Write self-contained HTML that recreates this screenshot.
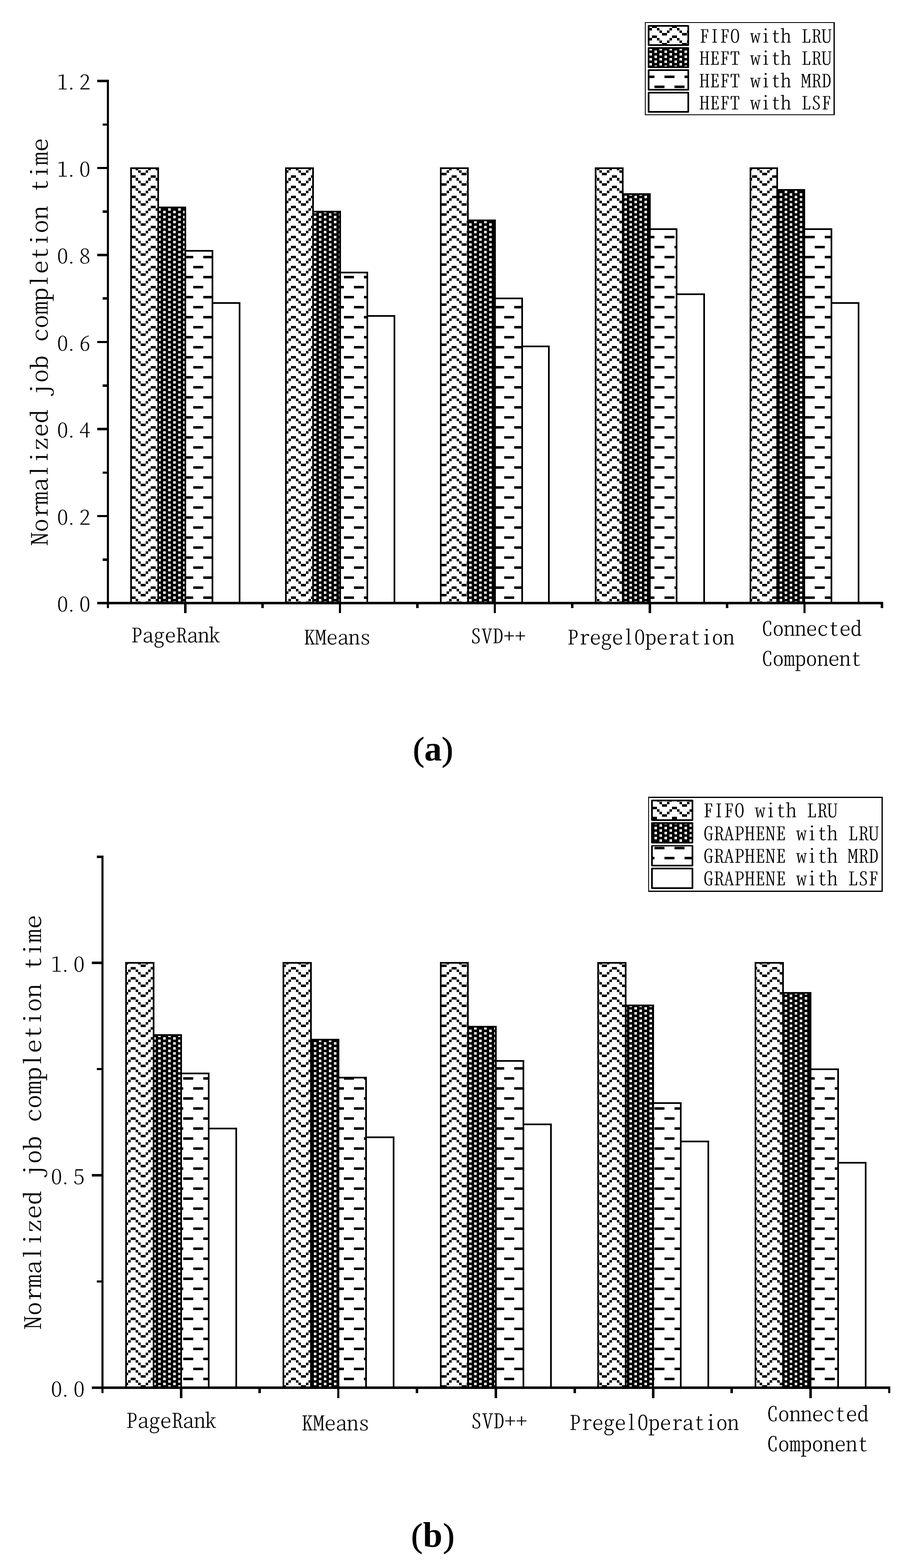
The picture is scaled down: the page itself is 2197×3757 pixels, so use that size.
<!DOCTYPE html>
<html lang="en"><head><meta charset="utf-8"><title>Normalized job completion time</title>
<style>
html,body{margin:0;padding:0;background:#fff}
body{width:2197px;height:3757px;overflow:hidden}
svg{display:block}
text.m{font-family:'Noto Serif CJK SC','Liberation Serif',serif;font-size:100px;font-weight:200;font-feature-settings:"hwid" 1;fill:#000;stroke:#000;stroke-width:0.6px;text-rendering:geometricPrecision;white-space:pre}
text.cap{font-family:'Liberation Serif',serif;font-weight:700;fill:#000}
text.cap .par{font-weight:400;font-size:81px;stroke:#000;stroke-width:1.3px}
</style></head><body>
<svg width="2197" height="3757" viewBox="0 0 2197 3757" shape-rendering="crispEdges">
<defs>
<pattern id="p1_10" patternUnits="userSpaceOnUse" x="1" y="0" width="48" height="24"><rect width="48" height="24" fill="#fff"/><g fill="#000"><rect x="12" y="0" width="6" height="6"/><rect x="42" y="0" width="6" height="6"/><rect x="0" y="6" width="12" height="6"/><rect x="24" y="12" width="12" height="6"/><rect x="18" y="18" width="6" height="6"/><rect x="36" y="18" width="6" height="6"/></g></pattern>
<pattern id="p1_11" patternUnits="userSpaceOnUse" x="1" y="1" width="48" height="24"><rect width="48" height="24" fill="#fff"/><g fill="#000"><rect x="12" y="0" width="6" height="6"/><rect x="42" y="0" width="6" height="6"/><rect x="0" y="6" width="12" height="6"/><rect x="24" y="12" width="12" height="6"/><rect x="18" y="18" width="6" height="6"/><rect x="36" y="18" width="6" height="6"/></g></pattern>
<pattern id="p1_20" patternUnits="userSpaceOnUse" x="2" y="0" width="48" height="24"><rect width="48" height="24" fill="#fff"/><g fill="#000"><rect x="12" y="0" width="6" height="6"/><rect x="42" y="0" width="6" height="6"/><rect x="0" y="6" width="12" height="6"/><rect x="24" y="12" width="12" height="6"/><rect x="18" y="18" width="6" height="6"/><rect x="36" y="18" width="6" height="6"/></g></pattern>
<pattern id="p1_21" patternUnits="userSpaceOnUse" x="2" y="1" width="48" height="24"><rect width="48" height="24" fill="#fff"/><g fill="#000"><rect x="12" y="0" width="6" height="6"/><rect x="42" y="0" width="6" height="6"/><rect x="0" y="6" width="12" height="6"/><rect x="24" y="12" width="12" height="6"/><rect x="18" y="18" width="6" height="6"/><rect x="36" y="18" width="6" height="6"/></g></pattern>
<pattern id="p2_11" patternUnits="userSpaceOnUse" x="1" y="1" width="24" height="12"><rect width="24" height="12" fill="#000"/><g fill="#fff"><rect x="6" y="0" width="6" height="6"/><rect x="18" y="6" width="6" height="6"/></g></pattern>
<pattern id="p2_21" patternUnits="userSpaceOnUse" x="2" y="1" width="24" height="12"><rect width="24" height="12" fill="#000"/><g fill="#fff"><rect x="6" y="0" width="6" height="6"/><rect x="18" y="6" width="6" height="6"/></g></pattern>
<pattern id="p3_11" patternUnits="userSpaceOnUse" x="1" y="1" width="48" height="48"><rect width="48" height="48" fill="#fff"/><g fill="#000"><rect x="6" y="36" width="24" height="6"/><rect x="30" y="12" width="18" height="6"/><rect x="0" y="12" width="6" height="6"/></g></pattern>
<pattern id="p3_21" patternUnits="userSpaceOnUse" x="2" y="1" width="48" height="48"><rect width="48" height="48" fill="#fff"/><g fill="#000"><rect x="6" y="36" width="24" height="6"/><rect x="30" y="12" width="18" height="6"/><rect x="0" y="12" width="6" height="6"/></g></pattern>
</defs>
<rect width="2197" height="3757" fill="#fff"/>
<rect x="314" y="403" width="65" height="24" fill="url(#p1_10)"/>
<rect x="314" y="427" width="65" height="1018" fill="url(#p1_11)"/>
<rect x="314" y="403" width="65" height="1042" fill="none" stroke="#000" stroke-width="4"/>
<rect x="379" y="497" width="65" height="948" fill="url(#p2_11)"/>
<rect x="379" y="497" width="65" height="948" fill="none" stroke="#000" stroke-width="4"/>
<rect x="444" y="601" width="65" height="844" fill="url(#p3_11)"/>
<rect x="444" y="601" width="65" height="844" fill="none" stroke="#000" stroke-width="4"/>
<rect x="509" y="726" width="65" height="719" fill="#fff"/>
<rect x="509" y="726" width="65" height="719" fill="none" stroke="#000" stroke-width="4"/>
<rect x="685" y="403" width="65" height="24" fill="url(#p1_10)"/>
<rect x="685" y="427" width="65" height="1018" fill="url(#p1_11)"/>
<rect x="685" y="403" width="65" height="1042" fill="none" stroke="#000" stroke-width="4"/>
<rect x="750" y="507" width="65" height="938" fill="url(#p2_21)"/>
<rect x="750" y="507" width="65" height="938" fill="none" stroke="#000" stroke-width="4"/>
<rect x="815" y="653" width="65" height="792" fill="url(#p3_21)"/>
<rect x="815" y="653" width="65" height="792" fill="none" stroke="#000" stroke-width="4"/>
<rect x="880" y="757" width="65" height="688" fill="#fff"/>
<rect x="880" y="757" width="65" height="688" fill="none" stroke="#000" stroke-width="4"/>
<rect x="1056" y="403" width="65" height="24" fill="url(#p1_20)"/>
<rect x="1056" y="427" width="65" height="1018" fill="url(#p1_21)"/>
<rect x="1056" y="403" width="65" height="1042" fill="none" stroke="#000" stroke-width="4"/>
<rect x="1121" y="528" width="65" height="917" fill="url(#p2_21)"/>
<rect x="1121" y="528" width="65" height="917" fill="none" stroke="#000" stroke-width="4"/>
<rect x="1186" y="715" width="65" height="730" fill="url(#p3_21)"/>
<rect x="1186" y="715" width="65" height="730" fill="none" stroke="#000" stroke-width="4"/>
<rect x="1251" y="830" width="64" height="615" fill="#fff"/>
<rect x="1251" y="830" width="64" height="615" fill="none" stroke="#000" stroke-width="4"/>
<rect x="1427" y="403" width="65" height="24" fill="url(#p1_20)"/>
<rect x="1427" y="427" width="65" height="1018" fill="url(#p1_21)"/>
<rect x="1427" y="403" width="65" height="1042" fill="none" stroke="#000" stroke-width="4"/>
<rect x="1492" y="465" width="65" height="980" fill="url(#p2_21)"/>
<rect x="1492" y="465" width="65" height="980" fill="none" stroke="#000" stroke-width="4"/>
<rect x="1557" y="549" width="64" height="896" fill="url(#p3_21)"/>
<rect x="1557" y="549" width="64" height="896" fill="none" stroke="#000" stroke-width="4"/>
<rect x="1621" y="705" width="66" height="740" fill="#fff"/>
<rect x="1621" y="705" width="66" height="740" fill="none" stroke="#000" stroke-width="4"/>
<rect x="1798" y="403" width="64" height="24" fill="url(#p1_20)"/>
<rect x="1798" y="427" width="64" height="1018" fill="url(#p1_21)"/>
<rect x="1798" y="403" width="64" height="1042" fill="none" stroke="#000" stroke-width="4"/>
<rect x="1862" y="455" width="65" height="990" fill="url(#p2_21)"/>
<rect x="1862" y="455" width="65" height="990" fill="none" stroke="#000" stroke-width="4"/>
<rect x="1927" y="549" width="65" height="896" fill="url(#p3_21)"/>
<rect x="1927" y="549" width="65" height="896" fill="none" stroke="#000" stroke-width="4"/>
<rect x="1992" y="726" width="65" height="719" fill="#fff"/>
<rect x="1992" y="726" width="65" height="719" fill="none" stroke="#000" stroke-width="4"/>
<rect x="256" y="191" width="5" height="1257" fill="#000"/>
<rect x="233" y="1442" width="1883" height="6" fill="#000"/>
<rect x="233" y="1234" width="26" height="5" fill="#000"/>
<rect x="233" y="1025" width="26" height="6" fill="#000"/>
<rect x="233" y="817" width="26" height="5" fill="#000"/>
<rect x="233" y="608" width="26" height="6" fill="#000"/>
<rect x="233" y="400" width="26" height="5" fill="#000"/>
<rect x="233" y="191" width="26" height="6" fill="#000"/>
<rect x="246" y="1338" width="13" height="6" fill="#000"/>
<rect x="246" y="1130" width="13" height="5" fill="#000"/>
<rect x="246" y="921" width="13" height="6" fill="#000"/>
<rect x="246" y="712" width="13" height="6" fill="#000"/>
<rect x="246" y="504" width="13" height="6" fill="#000"/>
<rect x="246" y="296" width="13" height="5" fill="#000"/>
<rect x="441" y="1445" width="6" height="24" fill="#000"/>
<rect x="812" y="1445" width="5" height="24" fill="#000"/>
<rect x="1183" y="1445" width="5" height="24" fill="#000"/>
<rect x="1554" y="1445" width="6" height="24" fill="#000"/>
<rect x="1925" y="1445" width="5" height="24" fill="#000"/>
<rect x="256" y="1445" width="5" height="12" fill="#000"/>
<rect x="626" y="1445" width="6" height="12" fill="#000"/>
<rect x="997" y="1445" width="6" height="12" fill="#000"/>
<rect x="1368" y="1445" width="6" height="12" fill="#000"/>
<rect x="1739" y="1445" width="6" height="12" fill="#000"/>
<rect x="2110" y="1445" width="6" height="12" fill="#000"/>
<text class="m" transform="translate(136.7,214.4) scale(0.5320,0.4680)" dx="0 -11 11">1.2</text>
<text class="m" transform="translate(136.7,422.9) scale(0.5320,0.4680)" dx="0 -11 11">1.0</text>
<text class="m" transform="translate(136.7,631.4) scale(0.5320,0.4680)" dx="0 -11 11">0.8</text>
<text class="m" transform="translate(136.7,839.9) scale(0.5320,0.4680)" dx="0 -11 11">0.6</text>
<text class="m" transform="translate(136.7,1048.4) scale(0.5320,0.4680)" dx="0 -11 11">0.4</text>
<text class="m" transform="translate(136.7,1256.9) scale(0.5320,0.4680)" dx="0 -11 11">0.2</text>
<text class="m" transform="translate(136.7,1465.4) scale(0.5320,0.4680)" dx="0 -11 11">0.0</text>
<text class="m" transform="translate(113.6,1307.6) rotate(-90) scale(0.6510,0.5280)" textLength="1500" lengthAdjust="spacing">Normalized job completion time</text>
<text class="m" transform="translate(314.5,1539.4) scale(0.5328,0.4667)" textLength="400" lengthAdjust="spacing">PageRank</text>
<text class="m" transform="translate(728.7,1544.4) scale(0.5328,0.4667)" textLength="300" lengthAdjust="spacing">KMeans</text>
<text class="m" transform="translate(1126.7,1540.6) scale(0.5328,0.4667)" textLength="250" lengthAdjust="spacing">SVD++</text>
<text class="m" transform="translate(1359.5,1544.2) scale(0.5328,0.4667)" textLength="750" lengthAdjust="spacing">PregelOperation</text>
<text class="m" transform="translate(1824.5,1523) scale(0.5328,0.4667)" textLength="450" lengthAdjust="spacing">Connected</text>
<text class="m" transform="translate(1824.5,1595) scale(0.5328,0.4667)" textLength="450" lengthAdjust="spacing">Component</text>
<rect x="1545" y="53" width="455" height="223" fill="#000"/>
<rect x="1547" y="55" width="450" height="219" fill="#fff"/>
<rect x="1554" y="62" width="95" height="46" rx="0.6" fill="url(#p1_21)" stroke="#000" stroke-width="4"/>
<rect x="1554" y="115" width="95" height="46" rx="0.6" fill="url(#p2_21)" stroke="#000" stroke-width="4"/>
<rect x="1554" y="168" width="95" height="47" rx="0.6" fill="url(#p3_21)" stroke="#000" stroke-width="4"/>
<rect x="1554" y="222" width="95" height="46" rx="0.6" fill="#fff" stroke="#000" stroke-width="4"/>
<text class="m" transform="translate(1675.7,102) scale(0.4870,0.4267)" textLength="650" lengthAdjust="spacing">FIFO with LRU</text>
<text class="m" transform="translate(1675.7,155) scale(0.4870,0.4267)" textLength="650" lengthAdjust="spacing">HEFT with LRU</text>
<text class="m" transform="translate(1675.7,208.5) scale(0.4870,0.4267)" textLength="650" lengthAdjust="spacing">HEFT with MRD</text>
<text class="m" transform="translate(1675.7,262) scale(0.4870,0.4267)" textLength="650" lengthAdjust="spacing">HEFT with LSF</text>
<rect x="302" y="2307" width="66" height="1018" fill="url(#p1_11)"/>
<rect x="302" y="2307" width="66" height="1018" fill="none" stroke="#000" stroke-width="4"/>
<rect x="368" y="2480" width="66" height="845" fill="url(#p2_11)"/>
<rect x="368" y="2480" width="66" height="845" fill="none" stroke="#000" stroke-width="4"/>
<rect x="434" y="2572" width="66" height="753" fill="url(#p3_11)"/>
<rect x="434" y="2572" width="66" height="753" fill="none" stroke="#000" stroke-width="4"/>
<rect x="500" y="2704" width="66" height="621" fill="#fff"/>
<rect x="500" y="2704" width="66" height="621" fill="none" stroke="#000" stroke-width="4"/>
<rect x="679" y="2307" width="66" height="1018" fill="url(#p1_11)"/>
<rect x="679" y="2307" width="66" height="1018" fill="none" stroke="#000" stroke-width="4"/>
<rect x="745" y="2491" width="66" height="834" fill="url(#p2_21)"/>
<rect x="745" y="2491" width="66" height="834" fill="none" stroke="#000" stroke-width="4"/>
<rect x="811" y="2582" width="66" height="743" fill="url(#p3_21)"/>
<rect x="811" y="2582" width="66" height="743" fill="none" stroke="#000" stroke-width="4"/>
<rect x="877" y="2725" width="66" height="600" fill="#fff"/>
<rect x="877" y="2725" width="66" height="600" fill="none" stroke="#000" stroke-width="4"/>
<rect x="1056" y="2307" width="65" height="1018" fill="url(#p1_21)"/>
<rect x="1056" y="2307" width="65" height="1018" fill="none" stroke="#000" stroke-width="4"/>
<rect x="1121" y="2460" width="67" height="865" fill="url(#p2_21)"/>
<rect x="1121" y="2460" width="67" height="865" fill="none" stroke="#000" stroke-width="4"/>
<rect x="1188" y="2542" width="66" height="783" fill="url(#p3_21)"/>
<rect x="1188" y="2542" width="66" height="783" fill="none" stroke="#000" stroke-width="4"/>
<rect x="1254" y="2694" width="66" height="631" fill="#fff"/>
<rect x="1254" y="2694" width="66" height="631" fill="none" stroke="#000" stroke-width="4"/>
<rect x="1433" y="2307" width="66" height="1018" fill="url(#p1_21)"/>
<rect x="1433" y="2307" width="66" height="1018" fill="none" stroke="#000" stroke-width="4"/>
<rect x="1499" y="2409" width="66" height="916" fill="url(#p2_21)"/>
<rect x="1499" y="2409" width="66" height="916" fill="none" stroke="#000" stroke-width="4"/>
<rect x="1565" y="2643" width="66" height="682" fill="url(#p3_21)"/>
<rect x="1565" y="2643" width="66" height="682" fill="none" stroke="#000" stroke-width="4"/>
<rect x="1631" y="2735" width="66" height="590" fill="#fff"/>
<rect x="1631" y="2735" width="66" height="590" fill="none" stroke="#000" stroke-width="4"/>
<rect x="1810" y="2307" width="66" height="1018" fill="url(#p1_21)"/>
<rect x="1810" y="2307" width="66" height="1018" fill="none" stroke="#000" stroke-width="4"/>
<rect x="1876" y="2379" width="66" height="946" fill="url(#p2_21)"/>
<rect x="1876" y="2379" width="66" height="946" fill="none" stroke="#000" stroke-width="4"/>
<rect x="1942" y="2562" width="66" height="763" fill="url(#p3_21)"/>
<rect x="1942" y="2562" width="66" height="763" fill="none" stroke="#000" stroke-width="4"/>
<rect x="2008" y="2786" width="66" height="539" fill="#fff"/>
<rect x="2008" y="2786" width="66" height="539" fill="none" stroke="#000" stroke-width="4"/>
<rect x="243" y="2050" width="5" height="1278" fill="#000"/>
<rect x="220" y="3322" width="1913" height="6" fill="#000"/>
<rect x="220" y="2813" width="26" height="6" fill="#000"/>
<rect x="220" y="2304" width="26" height="6" fill="#000"/>
<rect x="232" y="3068" width="14" height="5" fill="#000"/>
<rect x="232" y="2559" width="14" height="5" fill="#000"/>
<rect x="232" y="2050" width="14" height="6" fill="#000"/>
<rect x="431" y="3325" width="6" height="25" fill="#000"/>
<rect x="808" y="3325" width="5" height="25" fill="#000"/>
<rect x="1185" y="3325" width="6" height="25" fill="#000"/>
<rect x="1562" y="3325" width="6" height="25" fill="#000"/>
<rect x="1939" y="3325" width="6" height="25" fill="#000"/>
<rect x="243" y="3325" width="5" height="13" fill="#000"/>
<rect x="619" y="3325" width="6" height="13" fill="#000"/>
<rect x="996" y="3325" width="6" height="13" fill="#000"/>
<rect x="1374" y="3325" width="6" height="13" fill="#000"/>
<rect x="1750" y="3325" width="6" height="13" fill="#000"/>
<rect x="2128" y="3325" width="5" height="13" fill="#000"/>
<text class="m" transform="translate(122.1,2328.3) scale(0.5380,0.4733)" dx="0 -11 11">1.0</text>
<text class="m" transform="translate(122.1,2837.05) scale(0.5380,0.4733)" dx="0 -11 11">0.5</text>
<text class="m" transform="translate(122.1,3345.8) scale(0.5380,0.4733)" dx="0 -11 11">0.0</text>
<text class="m" transform="translate(97.9,3185.4) rotate(-90) scale(0.6618,0.5333)" textLength="1500" lengthAdjust="spacing">Normalized job completion time</text>
<text class="m" transform="translate(302.5,3420.7) scale(0.5408,0.4760)" textLength="400" lengthAdjust="spacing">PageRank</text>
<text class="m" transform="translate(723.2,3426.5) scale(0.5408,0.4760)" textLength="300" lengthAdjust="spacing">KMeans</text>
<text class="m" transform="translate(1127.8,3422.3) scale(0.5408,0.4760)" textLength="250" lengthAdjust="spacing">SVD++</text>
<text class="m" transform="translate(1364.4,3425.9) scale(0.5408,0.4760)" textLength="750" lengthAdjust="spacing">PregelOperation</text>
<text class="m" transform="translate(1837.1,3404.5) scale(0.5408,0.4760)" textLength="450" lengthAdjust="spacing">Connected</text>
<text class="m" transform="translate(1837.1,3476.5) scale(0.5408,0.4760)" textLength="450" lengthAdjust="spacing">Component</text>
<rect x="1553" y="1909" width="562" height="228" fill="#000"/>
<rect x="1555" y="1912" width="557" height="222" fill="#fff"/>
<rect x="1562" y="1918" width="97" height="47" rx="0.6" fill="url(#p1_21)" stroke="#000" stroke-width="4"/>
<rect x="1562" y="1972" width="97" height="47" rx="0.6" fill="url(#p2_21)" stroke="#000" stroke-width="4"/>
<rect x="1562" y="2027" width="97" height="47" rx="0.6" fill="url(#p3_21)" stroke="#000" stroke-width="4"/>
<rect x="1562" y="2081" width="97" height="47" rx="0.6" fill="#fff" stroke="#000" stroke-width="4"/>
<rect x="1564" y="2028" width="93" height="1" fill="#fff"/>
<text class="m" transform="translate(1685.1,1958) scale(0.4946,0.4400)" textLength="650" lengthAdjust="spacing">FIFO with LRU</text>
<text class="m" transform="translate(1685.1,2013) scale(0.4946,0.4400)" textLength="850" lengthAdjust="spacing">GRAPHENE with LRU</text>
<text class="m" transform="translate(1685.1,2067) scale(0.4946,0.4400)" textLength="850" lengthAdjust="spacing">GRAPHENE with MRD</text>
<text class="m" transform="translate(1685.1,2121) scale(0.4946,0.4400)" textLength="850" lengthAdjust="spacing">GRAPHENE with LSF</text>
<text class="cap" x="1037.5" y="1822" font-size="84" text-anchor="middle"><tspan class="par" dy="-0.5">(</tspan><tspan dy="0.5" dx="0">a</tspan><tspan class="par" dy="-0.5" dx="0">)</tspan></text>
<text class="cap" x="1037" y="3706" font-size="84" text-anchor="middle"><tspan class="par" dy="-0.5">(</tspan><tspan dy="0.5" dx="1">b</tspan><tspan class="par" dy="-0.5" dx="2">)</tspan></text>
</svg>
</body></html>
